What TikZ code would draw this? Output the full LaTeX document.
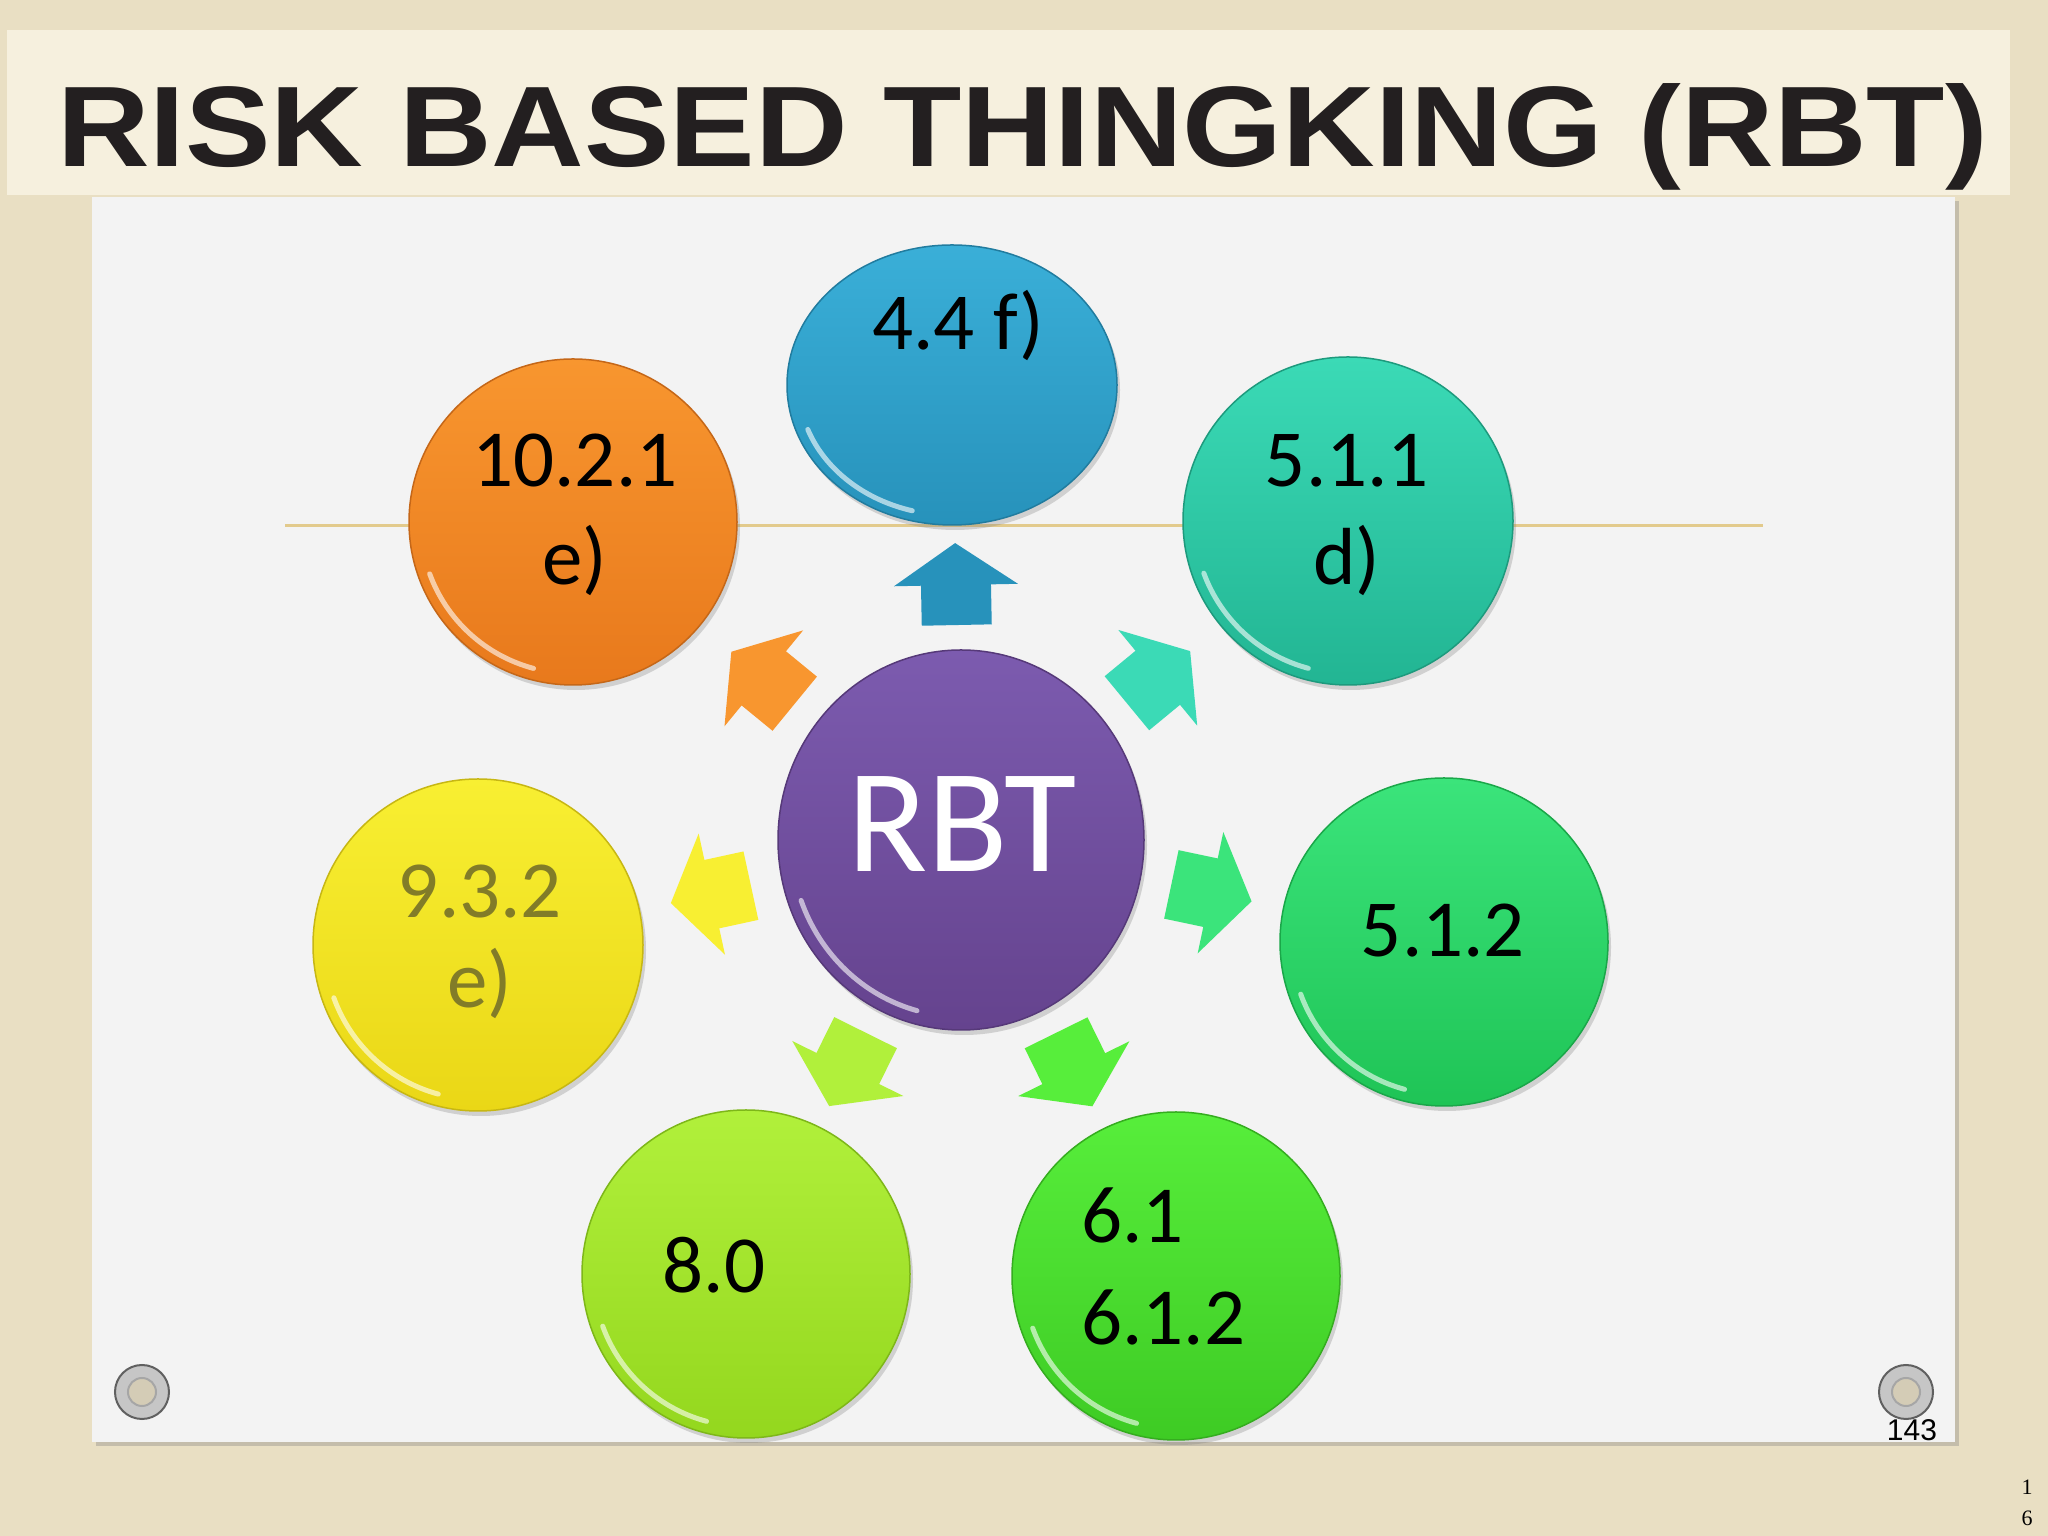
\documentclass[tikz,border=0pt]{standalone}
\usepackage{fontspec}
\usepackage{graphicx}
\setmainfont{Carlito}
\newfontfamily\arialfont{Liberation Sans}
\newfontfamily\timesfont{Liberation Serif}
\usetikzlibrary{calc,positioning,shapes.geometric,shadows,arrows.meta}

\definecolor{canvas}{HTML}{E9DFC3}
\definecolor{titlebar}{HTML}{F6F0DE}
\definecolor{board}{HTML}{F3F3F3}
\definecolor{titleink}{HTML}{231F20}
\definecolor{goldline}{HTML}{E2CA8C}
\definecolor{blueA}{HTML}{3AAFD8}\definecolor{blueB}{HTML}{2792BB}
\definecolor{orangeA}{HTML}{F8962F}\definecolor{orangeB}{HTML}{E8791C}
\definecolor{tealA}{HTML}{3BDAB6}\definecolor{tealB}{HTML}{22B593}
\definecolor{yellowA}{HTML}{F8EF32}\definecolor{yellowB}{HTML}{EAD716}
\definecolor{greenA}{HTML}{3BE47B}\definecolor{greenB}{HTML}{1FC456}
\definecolor{limeA}{HTML}{B1F03B}\definecolor{limeB}{HTML}{94D71E}
\definecolor{leafA}{HTML}{57EE3B}\definecolor{leafB}{HTML}{3ECB24}
\definecolor{purpleA}{HTML}{7C5BAF}\definecolor{purpleB}{HTML}{65438E}
\definecolor{olive}{HTML}{827C28}

\tikzset{
  ball/.style 2 args={ellipse, inner sep=0pt, top color=#1, bottom color=#2,
    draw=#2!85!black, line width=1.5pt,
    drop shadow={shadow xshift=3pt, shadow yshift=-5pt, opacity=.3},
    path picture={
      \draw[white, opacity=.6, line width=5pt, line cap=round]
        let \p1=($(path picture bounding box.north east)-(path picture bounding box.center)$) in
        ($(path picture bounding box.center)+(200:{0.93*\x1} and {0.93*\y1})$)
        arc[start angle=200, end angle=255, x radius={0.93*\x1}, y radius={0.93*\y1}];
    }},
  % base anchor of a two-line label sits on its last line
  numtext/.style={inner sep=0pt, anchor=base, align=center, text=black,
    font=\fontsize{81}{98}\selectfont},
  rbtarrow/.style={draw=#1, line width=70pt,
    -{Triangle[length=42pt, width=122pt]}},
  tack/.style={circle, minimum size=54pt, inner sep=0pt, fill=gray!45,
    draw=gray!75!black, line width=2pt,
    path picture={\fill[canvas!80!gray, draw=gray!70, line width=2pt]
      (path picture bounding box.center) circle (14pt);}}
}

\begin{document}
\begin{tikzpicture}[x=1pt, y=1pt]

  % canvas, board and title bar
  \fill[canvas] (0,0) rectangle (2048,1536);
  \fill[board, drop shadow={shadow xshift=4pt, shadow yshift=-4pt, opacity=.35}]
    (92,94) rectangle (1955,1339);
  \fill[titlebar] (7,1341) rectangle (2010,1506);
  \node[anchor=base west, inner sep=0pt, text=titleink,
    font=\arialfont\bfseries\fontsize{114.5}{120}\selectfont] (title) at (57,1369)
    {\scalebox{1.12}[1]{RISK BASED THINGKING (RBT)}};

  % gold rule behind the top row
  \draw[goldline, line width=3pt] (285,1010) -- (1763,1010);

  % outer circles
  \node[ball={blueA}{blueB}, minimum width=330pt, minimum height=280pt] (c44) at (952,1151) {};
  \node[ball={orangeA}{orangeB}, minimum width=328pt, minimum height=326pt] (c1021) at (573,1014) {};
  \node[ball={tealA}{tealB}, minimum width=330pt, minimum height=328pt] (c511) at (1348,1015) {};
  \node[ball={yellowA}{yellowB}, minimum width=330pt, minimum height=332pt] (c932) at (478,591) {};
  \node[ball={greenA}{greenB}, minimum width=328pt, minimum height=328pt] (c512) at (1444,594) {};
  \node[ball={limeA}{limeB}, minimum width=328pt, minimum height=328pt] (c80) at (746,262) {};
  \node[ball={leafA}{leafB}, minimum width=328pt, minimum height=328pt] (c61) at (1176,260) {};

  % centre
  \node[ball={purpleA}{purpleB}, minimum width=366pt, minimum height=380pt] (rbt) at (961,696) {};
  \node[inner sep=0pt, anchor=base, text=white, font=\fontsize{148}{150}\selectfont]
    (rbttext) at (962,664) {RBT};

  % arrows out of the centre
  \draw[rbtarrow=blueB] ($(rbt)!215pt!(c44)$) -- ($(rbt)!297pt!(c44)$);
  \draw[rbtarrow=orangeA] ($(rbt)!215pt!(c1021)$) -- ($(rbt)!297pt!(c1021)$);
  \draw[rbtarrow=tealA] ($(rbt)!215pt!(c511)$) -- ($(rbt)!297pt!(c511)$);
  \draw[rbtarrow=yellowA] ($(rbt)!215pt!(c932)$) -- ($(rbt)!297pt!(c932)$);
  \draw[rbtarrow=greenA] ($(rbt)!215pt!(c512)$) -- ($(rbt)!297pt!(c512)$);
  \draw[rbtarrow=limeA] ($(rbt)!215pt!(c80)$) -- ($(rbt)!297pt!(c80)$);
  \draw[rbtarrow=leafA] ($(rbt)!215pt!(c61)$) -- ($(rbt)!297pt!(c61)$);

  % clause numbers
  \node[numtext] (t44) at (958,1186) {4.4 f)};
  \node[numtext] (t1021) at (575,951) {10.2.1\\e)};
  \node[numtext] (t511) at (1347,951) {5.1.1\\d)};
  \node[numtext, text=olive, font=\fontsize{81}{90}\selectfont] (t932) at (480,528) {9.3.2\\e)};
  \node[numtext] (t512) at (1443,579) {5.1.2};
  \node[numtext] (t80) at (714,243) {8.0};
  \node[numtext, anchor=base west, align=left, font=\fontsize{81}{102}\selectfont]
    (t61) at (1081,191) {6.1\\6.1.2};

  % tacks and page numbers
  \node[tack] (tackl) at (142,144) {};
  \node[tack] (tackr) at (1906,144) {};
  \node[inner sep=0pt, anchor=base, font=\arialfont\fontsize{30}{32}\selectfont]
    (page) at (1912,95) {143};
  \node[inner sep=0pt, anchor=base, font=\timesfont\fontsize{22}{24}\selectfont]
    (slide1) at (2027,41) {1};
  \node[inner sep=0pt, anchor=base, font=\timesfont\fontsize{22}{24}\selectfont]
    (slide2) at (2027,10) {6};

\end{tikzpicture}
\end{document}
